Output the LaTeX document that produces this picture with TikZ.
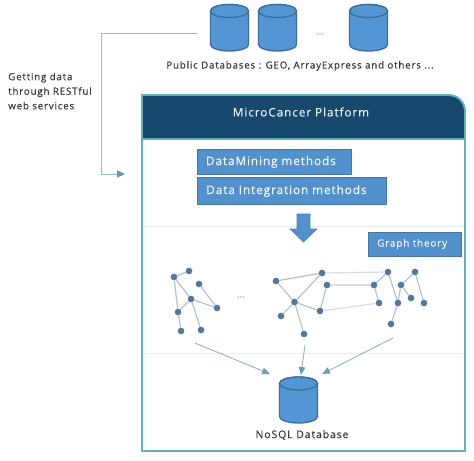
\documentclass[tikz,border=0pt]{standalone}
\usepackage{fontspec}
\setmainfont[LetterSpace=8,FakeBold=0.25]{Open Sans}
\usetikzlibrary{arrows.meta}
\definecolor{cylfill}{HTML}{5496D4}
\definecolor{cylline}{HTML}{3B6E9C}
\definecolor{teal}{HTML}{5FB0B8}
\definecolor{navy}{HTML}{17496F}
\definecolor{boxfill}{HTML}{5291CC}
\definecolor{boxline}{HTML}{44759F}
\definecolor{conn}{HTML}{8FBAD0}
\definecolor{edgec}{HTML}{B4C2CC}
\definecolor{dotc}{HTML}{54779F}
\definecolor{txt}{HTML}{3A3A3A}
\definecolor{arr}{HTML}{9DB4BF}
\definecolor{arrhead}{HTML}{6F9DB5}
\tikzset{
  x=0.75pt,y=-0.75pt,
  cylbody/.style={draw=cylline,line width=1pt,fill=cylfill},
  methodbox/.style={draw=boxline,line width=0.7pt,fill=boxfill,text=white!92!boxfill,font=\fontsize{8.8}{10}\selectfont,anchor=north west,inner ysep=0pt,outer sep=0pt},
  lbl/.style={text=txt,font=\fontsize{7.35}{10.9}\selectfont,inner sep=0pt},
  gn/.style={circle,fill=dotc,inner sep=0pt,minimum size=5pt,outer sep=0pt},
  ge/.style={draw=edgec,line width=0.9pt},
  gef/.style={draw=edgec!55,line width=0.9pt},
  flowarr/.style={draw=arr,line width=0.7pt,-{Triangle[length=6pt,width=5pt,fill=arrhead,color=arrhead]}},
}
\newcommand\dbcyl[4]{%
  \node[minimum width=28.5pt,minimum height=34.5pt,inner sep=0pt,outer sep=0pt] (#1) at (#2,{(#3+#4)/2}) {};
  \draw[cylbody] ({#2-19},{#3+6.5}) -- ({#2-19},{#4-6.5}) arc[start angle=180,end angle=360,x radius=19,y radius=-6.5] -- ({#2+19},{#3+6.5}) arc[start angle=0,end angle=180,x radius=19,y radius=-6.5] -- cycle;
  \draw[cylbody] (#2,{#3+6.5}) ellipse[x radius=19,y radius=6.5];
}
\begin{document}
\begin{tikzpicture}
\useasboundingbox (0,0) rectangle (474,460);
\fill[white] (0,0) rectangle (474,460);
% public databases
\dbcyl{db1}{229.5}{4.5}{51}
\dbcyl{db2}{277.5}{4.5}{51}
\dbcyl{db3}{368.5}{4.5}{51}
\node[text=gray,font=\fontsize{6}{7}\selectfont,inner sep=0pt] (dots1) at (320,34) {...};
\node[lbl] (publbl) at (300,66) {Public Databases : GEO, ArrayExpress and others ...};
% left text
\node[lbl,align=left,anchor=north west] (gettxt) at (8,72.5) {Getting data\\through RESTful\\web services};
% platform
\fill[navy] (142,139) -- (142,95) -- (448,95) arc[start angle=90,end angle=0,x radius=17,y radius=-17] -- (465,139) -- cycle;
\draw[teal,line width=1.4pt] (142,139) -- (142,95) -- (448,95) .. controls (458,95) and (465,102) .. (465,112) -- (465,451) -- (142,451) -- cycle;
\draw[teal,line width=1.2pt] (142,139) -- (465,139);
\node[text=white!90!navy,font=\fontsize{8.8}{10}\selectfont,inner sep=0pt] (title) at (301,112) {MicroCancer Platform};
\coordinate (arrstart) at (197,33);
\coordinate (bend1) at (101,33);
\coordinate (bend2) at (101,174);
\coordinate (arrend) at (125,174);
\draw[conn,line width=0.7pt,-{Triangle[length=6pt,width=5.5pt,fill=conn!80!black,color=conn!80!black]}] (arrstart) -- (bend1) -- (bend2) -- (arrend);
% separators
\coordinate (s1a) at (144,226); \coordinate (s1b) at (463,226);
\coordinate (s2a) at (144,353); \coordinate (s2b) at (463,353);
\draw[black!7,line width=0.7pt] (s1a) -- (s1b);
\draw[black!7,line width=0.7pt] (s2a) -- (s2b);
% boxes
\node[methodbox,inner xsep=6.75pt,text width=102.5pt,minimum height=18.8pt,align=left] (dm) at (197,149.5) {DataMining methods};
\node[methodbox,inner xsep=7pt,text width=128pt,minimum height=20.2pt,align=left] (di) at (197,177.5) {Data Integration methods};
\node[methodbox,inner xsep=6.5pt,text width=56.5pt,minimum height=18pt,align=left,font=\fontsize{7.5}{8}\selectfont] (gt) at (368.5,232) {Graph theory};
% down arrow
\fill[boxfill,draw=boxfill!90!black,line width=0.4pt] (297,214) -- (310,214) -- (310,229) -- (317,229) -- (303.5,242) -- (290,229) -- (297,229) -- cycle;
% graphs
\foreach \n/\x/\y in {a/174/277,b/189/271,c/199/284,d/191/299,e/217/308,f/178/312,g/181/331,h/201/330,
 i/276/281,j/322/273,k/294.5/302,l/320/311,m/281/316,n/304/334,
 o/327/285,p/374/285,q/388/272,r/379/303,s/398/303,t/391/324,u/401/285,v/415/272,w/411/298,x/424/303}
  {\node[gn] (\n) at (\x,\y) {};}
\foreach \p/\q in {a/b,a/f,a/d,c/e,d/e,d/f,f/g,d/h,i/j,i/k,k/j,k/m,k/l,k/n,o/l,p/q,p/r,q/s,s/t,s/u,u/v,u/w,v/x}
  {\draw[ge] (\p) -- (\q);}
\draw[gef] (j) -- (q);
\draw[gef] (o) -- (p);
\draw[gef] (l) -- (r);
\node[text=gray,font=\fontsize{6}{7}\selectfont,inner sep=0pt] (dots2) at (241,297) {...};
% NoSQL
\dbcyl{nosql}{298.5}{377}{423}
\node[lbl,font=\fontsize{7.9}{9}\selectfont] (nosqllbl) at (302,435) {NoSQL Database};
\coordinate (f1) at (195,343); \coordinate (t1) at (270,374);
\coordinate (f2) at (305,345); \coordinate (t2) at (301,375);
\coordinate (f3) at (393,338); \coordinate (t3) at (322,374);
\draw[flowarr] (f1) -- (t1);
\draw[flowarr] (f2) -- (t2);
\draw[flowarr] (f3) -- (t3);
\end{tikzpicture}
\end{document}
